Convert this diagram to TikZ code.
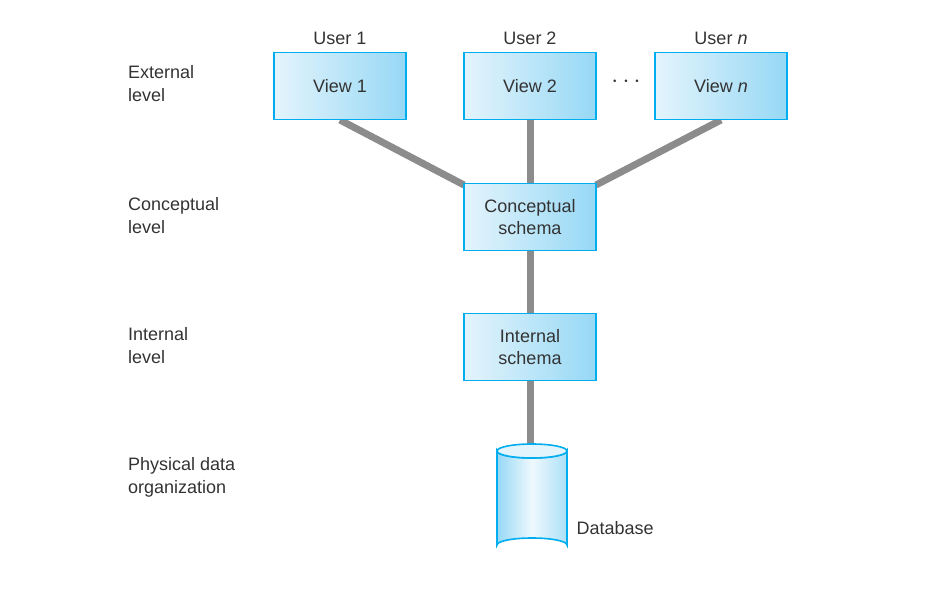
\documentclass[tikz,border=0pt]{standalone}
\usepackage{fontspec}
\setmainfont{Liberation Sans}
\definecolor{bd}{RGB}{0,174,239}
\definecolor{lt}{RGB}{228,244,252}
\definecolor{dk}{RGB}{150,216,245}
\begin{document}
\begin{tikzpicture}[x=1pt,y=-1pt,
 box/.style={draw=bd,line width=1.6pt,left color=lt,right color=dk,minimum width=132pt,minimum height=67pt,inner sep=0pt,align=center,text=black!80,font=\fontsize{18}{22}\selectfont},
 lbl/.style={anchor=north west,align=left,text=black!80,font=\fontsize{18}{23}\selectfont,inner sep=0pt},
 top/.style={text=black!80,font=\fontsize{18}{22}\selectfont},
 link/.style={draw=black!45,line width=7pt}]
\useasboundingbox (0,0) rectangle (930,616);
\draw[link] (340,120) -- (464,185);
\draw[link] (530,120) -- (530,183);
\draw[link] (721,120) -- (596,185);
\draw[link] (530,250) -- (530,313);
\draw[link] (530,380) -- (530,447);
\node[box] (v1) at (340,86) {View 1};
\node[box] (v2) at (530,86) {View 2};
\node[box] (vn) at (721,86) {View \textit{n}};
\node[box] (cs) at (530,217) {Conceptual\\schema};
\node[box] (is) at (530,347) {Internal\\schema};
\node[top] (u1) at (340,38) {User 1};
\node[top] (u2) at (530,38) {User 2};
\node[top] (un) at (721,38) {User \textit{n}};
\node[top,font=\fontsize{24}{24}\selectfont] (dots) at (626,82) {$\cdots$};
% cylinder
\path[left color=dk,right color=dk!80,middle color=lt!60,draw=bd,line width=1.6pt]
 (497,451) -- (497,545) arc[start angle=180,end angle=360,x radius=35,y radius=7] -- (567,451) arc[start angle=0,end angle=180,x radius=35,y radius=7] -- cycle;
\draw[draw=bd,line width=1.6pt,fill=lt] (532,451) ellipse[x radius=35,y radius=7];
\node[top,anchor=west] (db) at (573,528) {Database};
\node[lbl] (l1) at (128,65) {External\\level};
\node[lbl] (l2) at (128,197) {Conceptual\\level};
\node[lbl] (l3) at (128,327) {Internal\\level};
\node[lbl] (l4) at (128,457) {Physical data\\organization};
\end{tikzpicture}
\end{document}
